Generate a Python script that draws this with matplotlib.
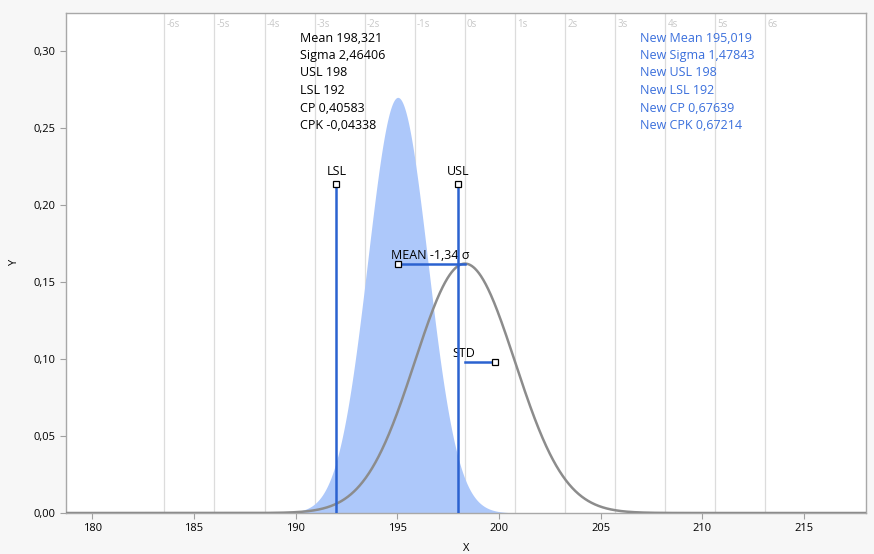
import numpy as np
import matplotlib
matplotlib.use("Agg")
import matplotlib.pyplot as plt

# ---- data ----
old_mean = 198.321
old_sigma = 2.46406
new_mean = 195.019
new_sigma = 1.47843
usl = 198
lsl = 192
sigma_steps = list(range(-6, 7))
x_ticks = [180, 185, 190, 195, 200, 205, 210, 215]
y_ticks = [0.00, 0.05, 0.10, 0.15, 0.20, 0.25, 0.30]
old_lines = ["Mean 198,321", "Sigma 2,46406", "USL 198", "LSL 192", "CP 0,40583", "CPK -0,04338"]
new_lines = ["New Mean 195,019", "New Sigma 1,47843", "New USL 198", "New LSL 192",
             "New CP 0,67639", "New CPK 0,67214"]
spec_top = 0.2139
mean_shift_label = "MEAN -1,34 σ"

plt.rcParams['font.family'] = ['Open Sans', 'DejaVu Sans']

def pdf(x, m, s):
    return np.exp(-0.5 * ((x - m) / s) ** 2) / (s * np.sqrt(2 * np.pi))

fig = plt.figure(figsize=(8.74, 5.54), dpi=100, facecolor='#f7f7f7')
ax = fig.add_axes([66/874, 1-513/554, 800/874, 500/554])
ax.set_facecolor('white')

xmin, xmax = 178.70, 218.05
ax.set_xlim(xmin, xmax)
ax.set_ylim(0, 0.3246)

xs = np.linspace(xmin, xmax, 2000)

# sigma grid lines
for k in sigma_steps:
    xv = old_mean + k * old_sigma
    ax.axvline(xv, color='#dcdcdc', lw=0.9, zorder=0)
    ax.text(xv + 0.1, 0.3246 - 0.004, f"{k}s", color='#c8c8c8', fontsize=7,
            ha='left', va='top', zorder=1)

# new distribution (filled)
ax.fill_between(xs, 0, pdf(xs, new_mean, new_sigma), color='#adc8fa', lw=0, zorder=2)
# old distribution (line)
ax.plot(xs, pdf(xs, old_mean, old_sigma), color='#8c8c8c', lw=1.8, zorder=3)

blue = '#2b62d0'
# spec lines
for val, name in [(lsl, 'LSL'), (usl, 'USL')]:
    ax.plot([val, val], [0, spec_top], color=blue, lw=1.8, zorder=4)
    ax.plot([val], [spec_top], marker='s', ms=5, mfc='white', mec='black', mew=0.9, zorder=6)
    ax.annotate(name, (val, spec_top), xytext=(0, 4), textcoords='offset points',
                ha='center', va='bottom', fontsize=9, color='black')

# mean shift
peak_old = pdf(old_mean, old_mean, old_sigma)
ax.plot([new_mean, old_mean], [peak_old, peak_old], color=blue, lw=1.8, zorder=4)
ax.plot([new_mean], [peak_old], marker='s', ms=5, mfc='white', mec='black', mew=0.9, zorder=6)
ax.annotate(mean_shift_label, (new_mean, peak_old), xytext=(-5, 1), textcoords='offset points',
            ha='left', va='bottom', fontsize=9, color='black')

# std
y_std = pdf(old_mean + old_sigma, old_mean, old_sigma)
ax.plot([old_mean, old_mean + new_sigma], [y_std, y_std], color=blue, lw=1.8, zorder=4)
ax.plot([old_mean + new_sigma], [y_std], marker='s', ms=5, mfc='white', mec='black', mew=0.9, zorder=6)
ax.annotate('STD', (old_mean, y_std), xytext=(-9, 1), textcoords='offset points',
            ha='left', va='bottom', fontsize=9, color='black')

# stats text
for i, t in enumerate(old_lines):
    ax.text(0.2925, 0.95 - i * 0.035, t, transform=ax.transAxes, fontsize=9,
            color='black', ha='left', va='center')
for i, t in enumerate(new_lines):
    ax.text(0.7175, 0.95 - i * 0.035, t, transform=ax.transAxes, fontsize=9,
            color='#3a6fdc', ha='left', va='center')

ax.set_xticks(x_ticks)
ax.set_xticklabels([str(v) for v in x_ticks])
ax.set_yticks(y_ticks)
ax.set_yticklabels([f"{v:.2f}".replace('.', ',') for v in y_ticks])
ax.tick_params(axis='both', colors='#a0a0a0', labelcolor='black', labelsize=8, length=4, width=0.8)
for s in ax.spines.values():
    s.set_color('#a8a8a8')
    s.set_linewidth(1.0)

ax.set_xlabel('X', fontsize=8, labelpad=6)
ax.set_ylabel('Y', fontsize=8)
ax.yaxis.set_label_coords(-0.057, 0.5)

fig.savefig('out.png', dpi=100, facecolor=fig.get_facecolor())
